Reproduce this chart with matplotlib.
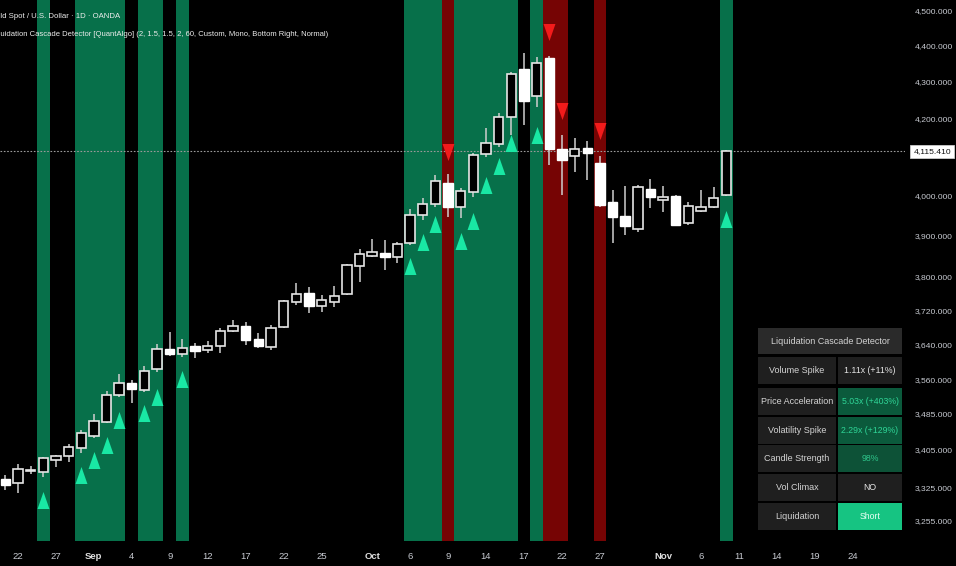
import numpy as np
import pandas as pd
import matplotlib
matplotlib.use("Agg")
import matplotlib.pyplot as plt
from matplotlib.patches import Rectangle
from matplotlib.ticker import FixedLocator, NullLocator, NullFormatter

plt.rcParams['font.family'] = ['Liberation Sans', 'DejaVu Sans']

# daily bars, Aug 21 .. Nov 10 2025 (weekdays)
dates = pd.bdate_range('2025-08-21', '2025-11-10')
opens = [3342, 3334, 3360, 3358, 3383, 3392, 3409, 3435, 3466, 3526,
         3552, 3537, 3584, 3630, 3618, 3637, 3627, 3637, 3672, 3683,
         3653, 3634, 3681, 3739, 3761, 3730, 3739, 3758, 3826, 3850,
         3857, 3848, 3882, 3952, 3979, 4032, 3971, 4010, 4108, 4134,
         4205, 4335, 4261, 4365, 4121, 4102, 4123, 4084, 3984, 3949,
         3917, 4018, 3990, 3999, 3932, 3961, 3971, 4002]
highs = [3351, 3375, 3370, 3390, 3394, 3418, 3448, 3483, 3535, 3573,
         3559, 3591, 3641, 3669, 3653, 3644, 3648, 3679, 3697, 3692,
         3667, 3686, 3744, 3785, 3775, 3756, 3778, 3830, 3867, 3891,
         3889, 3884, 3967, 3994, 4053, 4055, 4020, 4110, 4175, 4216,
         4327, 4379, 4368, 4371, 4157, 4149, 4141, 4102, 4015, 4025,
         4028, 4043, 4025, 4002, 3984, 4015, 4023, 4118]
lows = [3319, 3313, 3354, 3347, 3368, 3379, 3398, 3431, 3463, 3521,
        3508, 3532, 3577, 3614, 3612, 3609, 3620, 3620, 3669, 3639,
        3632, 3627, 3679, 3732, 3714, 3716, 3728, 3756, 3787, 3848,
        3816, 3833, 3877, 3939, 3971, 3946, 3944, 3997, 4100, 4126,
        4157, 4183, 4232, 4079, 4002, 4061, 4040, 3971, 3882, 3901,
        3909, 3969, 3959, 3927, 3927, 3959, 3969, 3999]
closes = [3330, 3364, 3362, 3387, 3392, 3411, 3442, 3468, 3526, 3552,
          3539, 3580, 3630, 3618, 3632, 3625, 3637, 3672, 3683, 3651,
          3637, 3679, 3742, 3758, 3730, 3744, 3754, 3828, 3855, 3860,
          3848, 3879, 3952, 3979, 4037, 3971, 4012, 4105, 4136, 4205,
          4321, 4248, 4351, 4121, 4092, 4121, 4110, 3976, 3946, 3924,
          4023, 3997, 3997, 3927, 3974, 3971, 3994, 4115.41]

# detector signals (bar index) and where the markers sit
long_idx = [3, 6, 7, 8, 9, 11, 12, 14, 32, 33, 34, 36, 37, 38, 39, 40, 42, 57]
long_marks = [3298, 3351, 3383, 3415, 3470, 3485, 3521, 3561, 3826, 3884,
              3929, 3887, 3937, 4027, 4076, 4136, 4157, 3942]
short_idx = [35, 43, 44, 47]
short_marks = [4113, 4438, 4221, 4168]

price_ticks = [4500, 4400, 4300, 4200, 4000, 3900, 3800, 3720, 3640,
               3560, 3485, 3405, 3325, 3255]
tick_dates = ['2025-08-22', '2025-08-27', '2025-09-01', '2025-09-04',
              '2025-09-09', '2025-09-12', '2025-09-17', '2025-09-22',
              '2025-09-25', '2025-10-01', '2025-10-06', '2025-10-09',
              '2025-10-14', '2025-10-17', '2025-10-22', '2025-10-27',
              '2025-11-03', '2025-11-06', '2025-11-11', '2025-11-14',
              '2025-11-19', '2025-11-24']
tick_labels = ['22', '27', 'Sep', '4', '9', '12', '17', '22', '25', 'Oct',
               '6', '9', '14', '17', '22', '27', 'Nov', '6', '11', '14',
               '19', '24']

table_rows = [("Volume Spike", "1.11x (+11%)"),
              ("Price Acceleration", "5.03x (+403%)"),
              ("Volatility Spike", "2.29x (+129%)"),
              ("Candle Strength", "98%"),
              ("Vol Climax", "NO"),
              ("Liquidation", "Short")]

BG = '#000000'
GREEN_BAND = '#07704a'
RED_BAND = '#760404'
TXT = '#c8cbd2'

fig = plt.figure(figsize=(9.56, 5.66), dpi=100, facecolor=BG)
W, H = 956, 566
ax = fig.add_axes([0, (H - 541) / H, 905 / W, 541 / H], facecolor=BG)
for s in ax.spines.values():
    s.set_visible(False)

x = np.arange(len(dates))
o = np.array(opens); h = np.array(highs); l = np.array(lows); c = np.array(closes)


def spans(idx):
    # merge consecutive bar indices into runs
    runs = []
    for i in sorted(idx):
        if runs and i == runs[-1][1] + 1:
            runs[-1][1] = i
        else:
            runs.append([i, i])
    return runs


for a, b in spans(long_idx):
    ax.axvspan(a - 0.5, b + 0.5, color=GREEN_BAND, lw=0, zorder=0)
for a, b in spans(short_idx):
    ax.axvspan(a - 0.5, b + 0.5, color=RED_BAND, lw=0, zorder=0)

# candles: hollow = up, filled = down
up = c >= o
ax.vlines(x, l, h, color='#cfcfcf', lw=1.1, zorder=2)
body_lo = np.minimum(o, c)
body_hi = np.maximum(o, c)
body_h = np.maximum(body_hi - body_lo, 1.5)
ax.bar(x[up], body_h[up], bottom=body_lo[up], width=0.74,
       facecolor=BG, edgecolor='#e6e6e6', lw=1.2, zorder=3)
ax.bar(x[~up], body_h[~up], bottom=body_lo[~up], width=0.74,
       facecolor='#ffffff', edgecolor='#ffffff', lw=1.0, zorder=3)

# slightly taller triangles than the stock markers
tri_up = [(-0.42, -0.6), (0.42, -0.6), (0, 0.6), (-0.42, -0.6)]
tri_dn = [(-0.42, 0.6), (0.42, 0.6), (0, -0.6), (-0.42, 0.6)]
ax.scatter(long_idx, long_marks, marker=tri_up, s=150, color='#19e8a4',
           lw=0, zorder=4)
ax.scatter(short_idx, short_marks, marker=tri_dn, s=150, color='#f21b1b',
           lw=0, zorder=4)

last = closes[-1]
ax.axhline(last, color='#9a9a9a', lw=0.8, ls=(0, (1.5, 1.5)), zorder=1)

ax.set_yscale('log')
ax.set_ylim(3214, 4529)
ax.set_xlim(-0.42, 71.12)

ax.yaxis.tick_right()
ax.yaxis.set_major_locator(FixedLocator(price_ticks))
ax.yaxis.set_minor_locator(NullLocator())
ax.yaxis.set_minor_formatter(NullFormatter())
ax.set_yticklabels([f"{v:,.3f}" for v in price_ticks])
ax.tick_params(axis='y', length=0, pad=7, labelsize=6.1, labelcolor=TXT)

all_days = pd.bdate_range('2025-08-21', '2025-11-28')
tick_pos = [all_days.get_loc(pd.Timestamp(d)) for d in tick_dates]
ax.set_xticks(tick_pos)
ax.set_xticklabels(tick_labels)
ax.tick_params(axis='x', length=0, pad=8, labelsize=6.8, labelcolor=TXT)
for t in ax.get_xticklabels():
    if t.get_text() in ('Sep', 'Oct', 'Nov'):
        t.set_fontweight('bold')
        t.set_color('#e0e0e0')

# last price tag
ax.annotate(f"{last:,.3f}", xy=(1.0, last), xycoords=('axes fraction', 'data'),
            xytext=(6, 0), textcoords='offset points', ha='left', va='center',
            fontsize=6.1, color='#111111',
            bbox=dict(boxstyle='square,pad=0.35', fc='#ffffff', ec='#cccccc', lw=0.6))

# header text (left edge is cut off like the screenshot)
fig.text(-10 / W, 1 - 16 / H, "Gold Spot / U.S. Dollar · 1D · OANDA",
         color='#ededed', fontsize=5.6, va='center', ha='left')
fig.text(-10 / W, 1 - 35 / H,
         "Liquidation Cascade Detector [QuantAlgo] (2, 1.5, 1.5, 2, 60, Custom, Mono, Bottom Right, Normal)",
         color='#ededed', fontsize=5.5, va='center', ha='left')


# table (pixel layout, origin top-left)
def rect(x0, y0, x1, y1, color):
    fig.patches.append(Rectangle((x0 / W, 1 - y1 / H), (x1 - x0) / W, (y1 - y0) / H,
                                 transform=fig.transFigure, figure=fig,
                                 facecolor=color, edgecolor='none', zorder=5))


def cell_text(x0, y0, x1, y1, s, color, size=6.5):
    fig.text((x0 + x1) / 2 / W, 1 - (y0 + y1) / 2 / H, s, color=color,
             fontsize=size, ha='center', va='center', zorder=6)


rect(756, 326, 904, 533, '#000000')
rect(758, 328, 902, 354, '#2a2a2a')
cell_text(758, 328, 902, 354, "Liquidation Cascade Detector", '#d4d4d4')
row_top = [357, 388, 417, 445, 474, 503]
row_h = 27
val_style = {
    "Volume Spike": ('#1f1f1f', '#e6e6e6'),
    "Price Acceleration": ('#0b5a3c', '#2fd597'),
    "Volatility Spike": ('#0b5a3c', '#2fd597'),
    "Candle Strength": ('#0d5237', '#2ec48a'),
    "Vol Climax": ('#1f1f1f', '#e6e6e6'),
    "Liquidation": ('#16c482', '#e9fff5'),
}
for (lab, val), yt in zip(table_rows, row_top):
    yb = yt + row_h
    rect(758, yt, 836, yb, '#1f1f1f')
    cell_text(758, yt, 836, yb, lab, '#d4d4d4')
    bg, fg = val_style[lab]
    rect(838, yt, 902, yb, bg)
    cell_text(838, yt, 902, yb, val, fg, size=6.3)

fig.savefig("out.png", dpi=100, facecolor=BG)
